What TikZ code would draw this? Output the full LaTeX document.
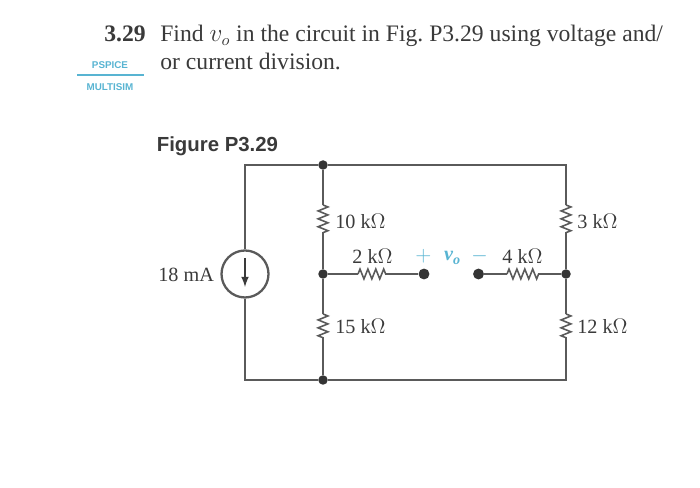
\documentclass[tikz,border=0pt]{standalone}
\usepackage{fontspec}
\setmainfont{Liberation Serif}
\setsansfont{Liberation Sans}
\usetikzlibrary{decorations.pathmorphing}
\definecolor{ink}{HTML}{3A3A3A}
\definecolor{wire}{HTML}{5A5A5A}
\definecolor{cyanlab}{HTML}{58B4D2}
\tikzset{
  dot/.style = {circle, fill=ink!90!black, inner sep=0pt, minimum size=5.4pt},
  bigdot/.style = {circle, fill=ink!90!black, inner sep=0pt, minimum size=6.2pt},
  label/.style = {text=ink, inner sep=0pt, font=\fontsize{11.5}{13}\selectfont},
  task/.style = {text=ink, inner sep=0pt, anchor=base west, font=\fontsize{13.45}{15}\selectfont},
  tag/.style = {text=cyanlab, inner sep=0pt, font=\sffamily\bfseries\fontsize{5.6}{7}\selectfont},
  wired/.style = {draw=wire, line width=1.3pt},
  thinwire/.style = {draw=wire, line width=1pt},
  res/.style = {draw=wire, line width=0.9pt, decorate, decoration={zigzag, segment length=4.5pt, amplitude=2.8pt}}
}
\begin{document}
\frenchspacing
\begin{tikzpicture}
  \useasboundingbox (0,0) rectangle (14,9.76);

  % problem text
  \node[task, font=\bfseries\fontsize{13.45}{15}\selectfont] (num) at (2.08, 8.92) {3.29};
  \node[task] (line1) at (3.20, 8.92) {Find $v_o$ in the circuit in Fig. P3.29 using voltage and/};
  \node[task] (line2) at (3.20, 8.36) {or current division.};
  \node[tag] (pspice) at (2.20, 8.46) {PSPICE};
  \node[tag] (multi) at (2.20, 8.02) {MULTISIM};
  \coordinate (ruleL) at (1.54, 8.26);
  \coordinate (ruleR) at (2.88, 8.26);
  \draw[cyanlab, line width=0.7pt] (ruleL) -- (ruleR);
  \node[task, font=\sffamily\bfseries\fontsize{11.6}{13}\selectfont] (fig) at (3.13, 6.73) {Figure P3.29};

  % corners and junctions
  \coordinate (TL) at (4.90, 6.46);
  \coordinate (BL) at (4.90, 2.16);
  \coordinate (TR) at (11.32, 6.46);
  \coordinate (BR) at (11.32, 2.16);
  \node[dot] (T) at (6.46, 6.46) {};
  \node[dot] (M) at (6.46, 4.28) {};
  \node[dot] (B) at (6.46, 2.16) {};
  \node[dot] (N) at (11.32, 4.28) {};
  \node[bigdot] (P) at (8.48, 4.28) {};
  \node[bigdot] (Q) at (9.57, 4.28) {};
  \node[draw=wire, circle, line width=1.3pt, minimum size=0.94cm, inner sep=0pt] (S) at (4.90, 4.28) {};

  % resistor ends
  \coordinate (Ra1) at (6.46, 5.66);
  \coordinate (Ra2) at (6.46, 5.10);
  \coordinate (Rb1) at (6.46, 3.48);
  \coordinate (Rb2) at (6.46, 2.94);
  \coordinate (Rc1) at (11.32, 5.66);
  \coordinate (Rc2) at (11.32, 5.10);
  \coordinate (Rd1) at (11.32, 3.48);
  \coordinate (Rd2) at (11.32, 2.94);
  \coordinate (Re1) at (7.16, 4.28);
  \coordinate (Re2) at (7.74, 4.28);
  \coordinate (Rf1) at (10.14, 4.28);
  \coordinate (Rf2) at (10.80, 4.28);

  % wires
  \draw[wired] (S) -- (TL) -- (T) -- (TR) -- (Rc1);
  \draw[wired] (S) -- (BL) -- (B) -- (BR) -- (Rd2);
  \draw[wired] (T) -- (Ra1);
  \draw[wired] (Ra2) -- (M) -- (Rb1);
  \draw[wired] (Rb2) -- (B);
  \draw[wired] (Rc2) -- (N) -- (Rd1);
  \draw[thinwire] (M) -- (Re1);
  \draw[thinwire] (Re2) -- (P);
  \draw[thinwire] (Q) -- (Rf1);
  \draw[thinwire] (Rf2) -- (N);

  % resistors
  \draw[res] (Ra1) -- (Ra2);
  \draw[res] (Rb1) -- (Rb2);
  \draw[res] (Rc1) -- (Rc2);
  \draw[res] (Rd1) -- (Rd2);
  \draw[res] (Re1) -- (Re2);
  \draw[res] (Rf1) -- (Rf2);

  % source arrow
  \coordinate (Sa) at (4.90, 4.60);
  \coordinate (Sb) at (4.90, 4.02);
  \draw[draw=ink, line width=1pt, -latex] (Sa) -- (Sb);

  % labels
  \node[label, anchor=west] (l10) at (6.70, 5.34) {10 k$\Omega$};
  \node[label, anchor=west] (l15) at (6.70, 3.24) {15 k$\Omega$};
  \node[label, anchor=west] (l3) at (11.54, 5.34) {3 k$\Omega$};
  \node[label, anchor=west] (l12) at (11.54, 3.24) {12 k$\Omega$};
  \node[label, anchor=west] (l2) at (7.04, 4.64) {2 k$\Omega$};
  \node[label, anchor=west] (l4) at (10.04, 4.64) {4 k$\Omega$};
  \node[label, anchor=west] (l18) at (3.16, 4.26) {18 mA};
  \node[label, text=cyanlab] (plus) at (8.47, 4.64) {$+$};
  \node[label, text=cyanlab] (vo) at (9.05, 4.60) {\bfseries\itshape v\textsubscript{o}};
  \node[label, text=cyanlab] (minus) at (9.59, 4.64) {$-$};
\end{tikzpicture}
\end{document}
